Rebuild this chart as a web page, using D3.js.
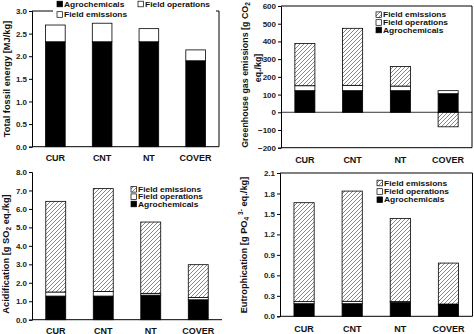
<!DOCTYPE html>
<html>
<head>
<meta charset="utf-8">
<script src="https://cdn.jsdelivr.net/npm/d3@7"></script>
<style>
  html, body { margin: 0; padding: 0; background: #fff; }
  svg { display: block; font-family: "Liberation Sans", Arial, sans-serif; font-weight: bold; }
</style>
</head>
<body>
<svg id="chart" width="474" height="334"></svg>
<script>
// Farming systems compared
const categories = ["CUR", "CNT", "NT", "COVER"];

// Total fossil energy [MJ/kg]
const energyAgro = [2.32, 2.32, 2.32, 1.90];
const energyOps  = [0.37, 0.41, 0.29, 0.24];
const energyEmis = [0, 0, 0, 0];
const energyTicks = [0, 0.5, 1.0, 1.5, 2.0, 2.5, 3.0];

// Greenhouse gas emissions [g CO2 eq./kg]
const ghgAgro = [122, 122, 122, 105];
const ghgOps  = [28, 30, 26, 17];
const ghgEmis = [238, 322, 110, -82];
const ghgTicks = [-200, -100, 0, 100, 200, 300, 400, 500, 600];

// Acidification [g SO2 eq./kg]
const acidAgro = [1.28, 1.28, 1.33, 1.08];
const acidOps  = [0.22, 0.25, 0.10, 0.12];
const acidEmis = [4.91, 5.57, 3.86, 1.78];
const acidTicks = [0, 1, 2, 3, 4, 5, 6, 7, 8];

// Eutrophication [g PO4 3- eq./kg]
const eutroAgro = [0.185, 0.185, 0.205, 0.17];
const eutroOps  = [0.03, 0.035, 0.01, 0.01];
const eutroEmis = [1.45, 1.615, 1.22, 0.60];
const eutroTicks = [0, 0.3, 0.6, 0.9, 1.2, 1.5, 1.8, 2.1];

const seriesKeys = ["agro", "ops", "emis"];
const seriesNames = { agro: "Agrochemicals", ops: "Field operations", emis: "Field emissions" };

const svg = d3.select("#chart");
const defs = svg.append("defs");
const hatch = defs.append("pattern")
  .attr("id", "hatch").attr("patternUnits", "userSpaceOnUse")
  .attr("width", 4).attr("height", 4);
hatch.append("rect").attr("width", 4).attr("height", 4).attr("fill", "#fff");
hatch.append("path")
  .attr("d", "M-1,1 L1,-1 M0,4 L4,0 M3,5 L5,3")
  .attr("stroke", "#555").attr("stroke-width", 0.7);

const fills = { agro: "#000", ops: "#fff", emis: "url(#hatch)" };

function drawPanel(p) {
  const g = svg.append("g");
  const rows = categories.map((c, i) => ({ cat: c, agro: p.agro[i], ops: p.ops[i], emis: p.emis[i] }));
  const stacked = d3.stack().keys(seriesKeys).offset(d3.stackOffsetDiverging)(rows);

  const x = d3.scaleBand().domain(categories).range([p.x0, p.x1]).paddingInner(0.58).paddingOuter(0.29);
  const y = d3.scaleLinear().domain(p.domain).range([p.yBottom, p.yTop]);

  // frame
  if (p.frame) {
    g.append("path")
      .attr("d", `M${p.x0},${p.yTop} L${p.x1},${p.yTop} L${p.x1},${p.yBottom}`)
      .attr("fill", "none").attr("stroke", "#000").attr("stroke-width", 1);
  }

  // bars
  stacked.forEach(s => {
    g.append("g").selectAll("rect").data(s).join("rect")
      .attr("x", d => x(d.data.cat))
      .attr("width", x.bandwidth())
      .attr("y", d => y(Math.max(d[0], d[1])))
      .attr("height", d => Math.abs(y(d[0]) - y(d[1])))
      .attr("fill", fills[s.key])
      .attr("stroke", d => d[0] === d[1] ? "none" : "#000")
      .attr("stroke-width", 0.8);
  });

  // zero line
  if (p.domain[0] < 0) {
    g.append("line").attr("x1", p.x0).attr("x2", p.x1)
      .attr("y1", y(0)).attr("y2", y(0)).attr("stroke", "#000").attr("stroke-width", 0.8);
  }

  // y axis
  const ya = g.append("g").attr("transform", `translate(${p.x0},0)`)
    .call(d3.axisLeft(y).tickValues(p.ticks).tickFormat(d3.format(p.fmt)).tickSize(3).tickPadding(2));
  ya.select(".domain").attr("stroke-width", 1);
  ya.selectAll("text").attr("font-size", 8).attr("font-family", null).attr("fill", "#222");

  // x axis line and category labels
  g.append("line").attr("x1", p.x0).attr("x2", p.x1)
    .attr("y1", p.yBottom).attr("y2", p.yBottom).attr("stroke", "#000").attr("stroke-width", 1);
  g.append("g").selectAll("text").data(categories).join("text")
    .attr("x", d => x(d) + x.bandwidth() / 2)
    .attr("y", p.catY)
    .attr("text-anchor", "middle").attr("font-size", 9).attr("fill", "#111")
    .text(d => d);

  // y label
  const lbl = g.append("text")
    .attr("transform", `translate(${p.labelX},${p.labelY}) rotate(-90)`)
    .attr("text-anchor", "middle").attr("font-size", p.labelSize || 9.3).attr("fill", "#111");
  p.label(lbl);
  if (p.label2) {
    g.append("text")
      .attr("transform", `translate(${p.label2X},${p.label2Y}) rotate(-90)`)
      .attr("text-anchor", "middle").attr("font-size", p.labelSize || 9.3).attr("fill", "#111")
      .text(p.label2);
  }

  // legend (text is drawn slightly widened)
  const lg = g.append("g");
  if (p.legendBg) {
    lg.append("rect").attr("x", p.legendBg[0]).attr("y", p.legendBg[1])
      .attr("width", p.legendBg[2]).attr("height", p.legendBg[3]).attr("fill", "#fff");
  }
  p.legend.forEach(item => {
    lg.append("rect").attr("x", item.x).attr("y", item.y - 2.8)
      .attr("width", 5.6).attr("height", 5.6)
      .attr("fill", item.fill || fills[item.key]).attr("stroke", "#000").attr("stroke-width", 0.7);
    lg.append("text")
      .attr("transform", `translate(${item.x + 7},${item.y + 2.6}) scale(1.17,1)`)
      .attr("font-size", 7.2).attr("fill", "#111").text(seriesNames[item.key]);
  });
}

function sub(t, s) { t.append("tspan").attr("dy", 2).attr("font-size", 6.5).text(s); }

drawPanel({
  x0: 32, x1: 219, yTop: 11, yBottom: 146.7, domain: [0, 3], ticks: energyTicks, fmt: ".1f",
  agro: energyAgro, ops: energyOps, emis: energyEmis, frame: true, catY: 161,
  labelX: 10, labelY: 79,
  label: t => t.text("Total fossil energy [MJ/kg]"),
  legendBg: [53, 0, 163, 19],
  legend: [
    { key: "agro", x: 57, y: 4 },
    { key: "ops", x: 138, y: 4 },
    { key: "emis", x: 57, y: 14.5, fill: "#fff" }
  ]
});

drawPanel({
  x0: 281, x1: 472, yTop: 6, yBottom: 147.7, domain: [-200, 600], ticks: ghgTicks, fmt: "d",
  agro: ghgAgro, ops: ghgOps, emis: ghgEmis, frame: true, catY: 163,
  labelX: 247.5, labelY: 75, labelSize: 8.9,
  label: t => { t.append("tspan").text("Greenhouse gas emissions [g CO"); sub(t, "2"); },
  label2: "eq./kg]", label2X: 260.5, label2Y: 68,
  legend: [
    { key: "emis", x: 376, y: 14.7 },
    { key: "ops", x: 376, y: 22.5 },
    { key: "agro", x: 376, y: 30 }
  ]
});

drawPanel({
  x0: 32, x1: 222, yTop: 172, yBottom: 319.7, domain: [0, 8], ticks: acidTicks, fmt: ".1f",
  agro: acidAgro, ops: acidOps, emis: acidEmis, frame: false, catY: 333.5,
  labelX: 9, labelY: 254,
  label: t => { t.append("tspan").text("Acidification [g SO"); sub(t, "2"); t.append("tspan").attr("dy", -2).text(" eq./kg]"); },
  legend: [
    { key: "emis", x: 131, y: 189.3 },
    { key: "ops", x: 131, y: 196.7 },
    { key: "agro", x: 131, y: 204 }
  ]
});

drawPanel({
  x0: 280, x1: 472.5, yTop: 173, yBottom: 316.3, domain: [0, 2.1], ticks: eutroTicks, fmt: ".1f",
  agro: eutroAgro, ops: eutroOps, emis: eutroEmis, frame: true, catY: 332,
  labelX: 247, labelY: 245,
  label: t => {
    t.append("tspan").text("Eutrophication [g PO");
    t.append("tspan").attr("dy", 2).attr("font-size", 6.5).text("4");
    t.append("tspan").attr("dy", -6).attr("font-size", 6.5).text(" 3-");
    t.append("tspan").attr("dy", 4).text(" eq./kg]");
  },
  legend: [
    { key: "emis", x: 377, y: 183 },
    { key: "ops", x: 377, y: 191.5 },
    { key: "agro", x: 377, y: 199.7 }
  ]
});
</script>
</body>
</html>
